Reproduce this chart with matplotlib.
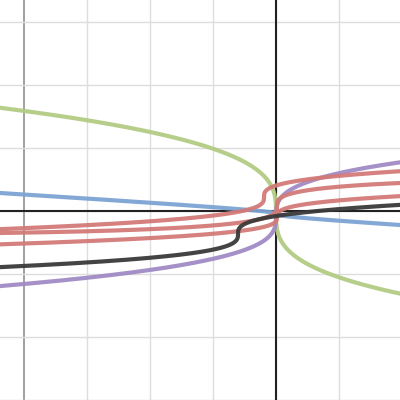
import numpy as np
import matplotlib
matplotlib.use("Agg")
import matplotlib.pyplot as plt

PX = 63.0; OX = 276.0; OY = 211.0
# anchors in pixel coords: center x, center y, y at left edge (x=0), y at right edge (x=400)
names   = ["green", "blue", "purple", "black", "red1", "red2", "red3"]
colors  = ["#b3cc84", "#7ca4d4", "#a08bc4", "#3a3a3a", "#d27a78", "#d27a78", "#d27a78"]
cx      = [276, 277, 276, 238, 264, 277, 277]
cy      = [213, 214, 216, 234, 197, 206, 217]
yleft   = [105, 193, 282, 269, 229, 233, 245]
yright  = [290, 225, 157, 207, 171, 183, 197]
linear  = [False, True, False, False, False, True, False]

def u(px): return (px - OX) / PX
def v(py): return (OY - py) / PX

fig = plt.figure(figsize=(4, 4), dpi=100)
ax = fig.add_axes([0, 0, 1, 1])
xmin, xmax = u(0), u(400)
ax.set_xlim(xmin, xmax); ax.set_ylim(v(400), v(0))
for g in range(-4, 3):
    ax.axvline(g, color="#999999" if g == -4 else "#dddddd", lw=1.3 if g == -4 else 1, zorder=0)
for g in range(-3, 4):
    ax.axhline(g, color="#dddddd", lw=1, zorder=0)
ax.axhline(0, color="#222222", lw=1.5, zorder=1)
ax.axvline(0, color="#222222", lw=1.5, zorder=1)

x = np.linspace(xmin, xmax, 3000)
for n, c, x0p, y0p, yl, yr, lin in zip(names, colors, cx, cy, yleft, yright, linear):
    x0, y0 = u(x0p), v(y0p)
    dl, dr = xmin - x0, xmax - x0
    t = np.array([v(yl) - y0, v(yr) - y0])
    if lin:
        M = np.array([[np.cbrt(dl), dl], [np.cbrt(dr), dr]])
        a, b = np.linalg.solve(M, t)
    else:
        cvec = np.array([np.cbrt(dl), np.cbrt(dr)])
        a, b = cvec @ t / (cvec @ cvec), 0.0
    y = y0 + a * np.cbrt(x - x0) + b * (x - x0)
    ax.plot(x, y, color=c, lw=3, alpha=0.95, zorder=4 if n == "black" else 3, solid_capstyle="round")
ax.axis("off")
fig.savefig("out.png", dpi=100)
